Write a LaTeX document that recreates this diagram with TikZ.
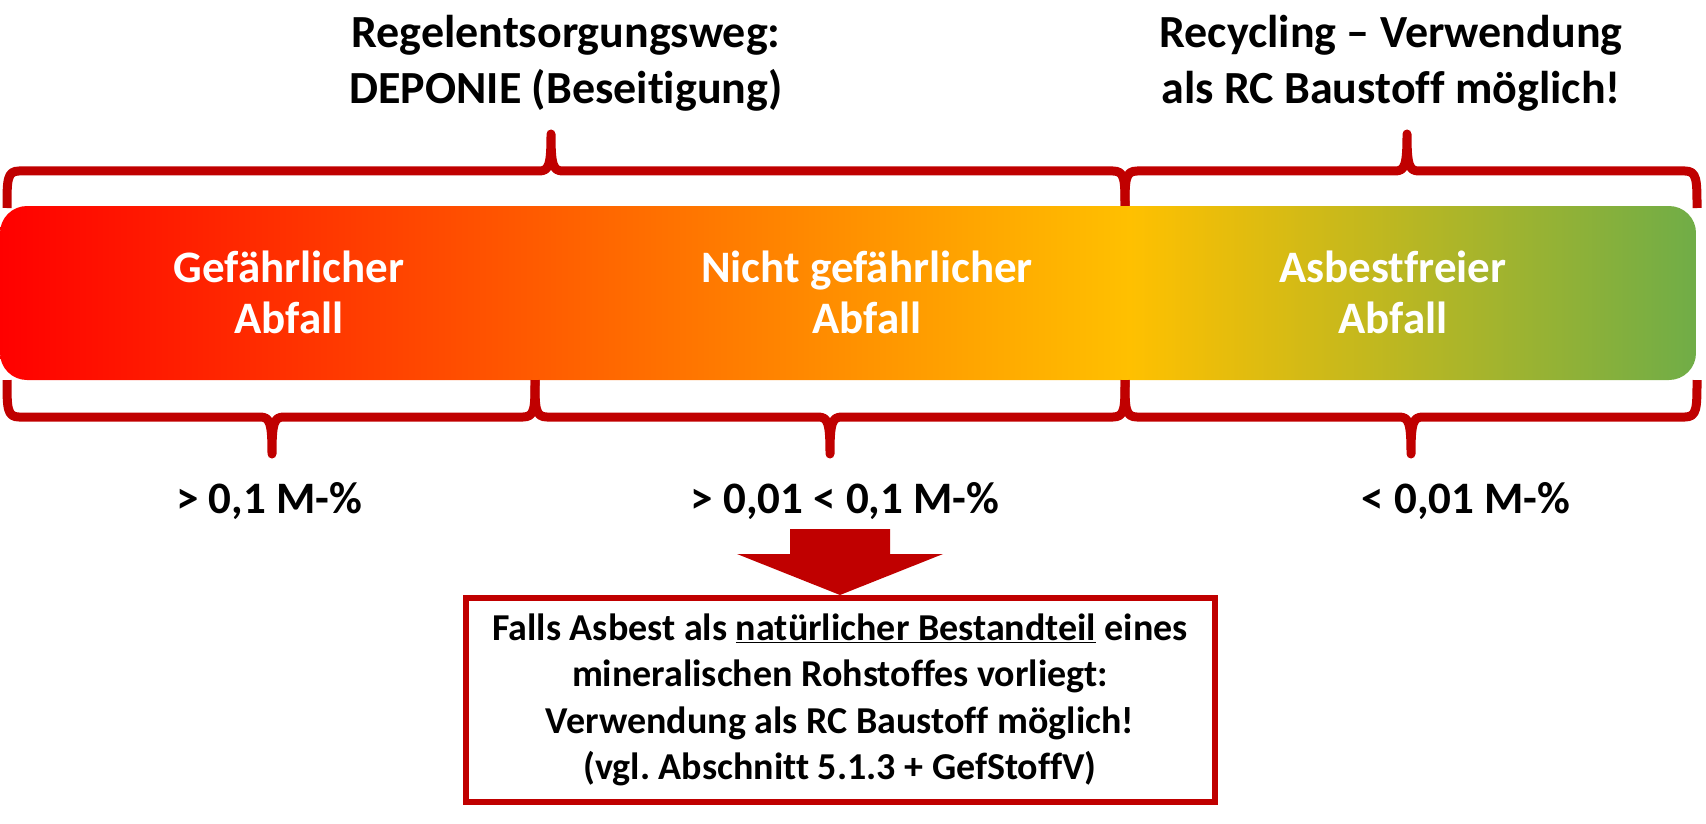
\documentclass[tikz,border=0pt]{standalone}
\usepackage{fontspec}
\setmainfont{Carlito}[Ligatures=NoCommon]
\frenchspacing
\usetikzlibrary{positioning}

\definecolor{braceRed}{HTML}{C00000}
\definecolor{barRed}{HTML}{FF0000}
\definecolor{barAmber}{HTML}{FFC000}
\definecolor{barGreen}{HTML}{70AD47}
\pgfdeclarehorizontalshading{barShade}{100bp}{color(0bp)=(barRed); color(25bp)=(barRed);
	color(58.3bp)=(barAmber); color(75bp)=(barGreen); color(100bp)=(barGreen)}

% curly brackets above and below the bar
\newcommand{\upbrace}[3]{%
	\draw[curly]	(#1,208) .. controls (#1,180) and (#1,171) .. (#1+12,171)
					-- (#2-12,171) .. controls (#2-2,171) and (#2,165) .. (#2,134)
					.. controls (#2,165) and (#2+2,171) .. (#2+12,171)
					-- (#3-12,171) .. controls (#3,171) and (#3,180) .. (#3,208);}
\newcommand{\downbrace}[3]{%
	\draw[curly]	(#1,380) .. controls (#1,408) and (#1,417) .. (#1+12,417)
					-- (#2-12,417) .. controls (#2-2,417) and (#2,423) .. (#2,454)
					.. controls (#2,423) and (#2+2,417) .. (#2+12,417)
					-- (#3-12,417) .. controls (#3,417) and (#3,408) .. (#3,380);}

\begin{document}
\begin{tikzpicture}[x=1pt, y=-1pt,
		curly/.style={draw=braceRed, line width=9pt, line join=round},
		heading/.style={font=\fontsize{46}{56}\selectfont\bfseries, align=center, inner sep=0pt},
		barlabel/.style={font=\fontsize{45}{51}\selectfont\bfseries, text=white, align=center, inner sep=0pt},
		limit/.style={font=\fontsize{45}{54}\selectfont\bfseries, inner sep=0pt, anchor=base},
		notebox/.style={draw=braceRed, line width=6pt, fill=white, minimum width=749pt, minimum height=204pt,
			inner sep=0pt, align=center, font=\fontsize{38}{46.5}\selectfont\bfseries}]
	\useasboundingbox (0,0) rectangle (1706,824);

	\node[heading] (deponie) at (566,63) {Regelentsorgungsweg:\\DEPONIE (Beseitigung)};
	\node[heading] (recycling) at (1391,63) {Recycling -- Verwendung\\als RC Baustoff möglich!};

	\upbrace{7}{551}{1125}
	\upbrace{1125}{1407}{1697}

	\shade[shading=barShade, rounded corners=27pt]	(0,206) rectangle (1696,380);

	\node[barlabel] (danger) at (289,292) {Gefährlicher\\Abfall};
	\node[barlabel] (nondanger) at (867,292) {Nicht gefährlicher\\Abfall};
	\node[barlabel] (free) at (1393,292) {Asbestfreier\\Abfall};

	\downbrace{7}{272}{535}
	\downbrace{535}{830}{1125}
	\downbrace{1125}{1411}{1697}

	\node[limit] (high) at (269,513) {> 0,1 M-\%};
	\node[limit] (mid) at (845,513) {> 0,01 < 0,1 M-\%};
	\node[limit] (low) at (1466,513) {< 0,01 M-\%};

	\node[notebox] (note) at (840,700) {Falls Asbest als \underline{natürlicher Bestandteil} eines\\
		mineralischen Rohstoffes vorliegt:\\Verwendung als RC Baustoff möglich!\\(vgl. Abschnitt 5.1.3 + GefStoffV)};

	\fill[braceRed]	(note.north) -- ++(-103,-41) -- ++(53,0) -- ++(0,-25)
					-- ++(100,0) -- ++(0,25) -- ++(53,0) -- cycle;
\end{tikzpicture}
\end{document}
